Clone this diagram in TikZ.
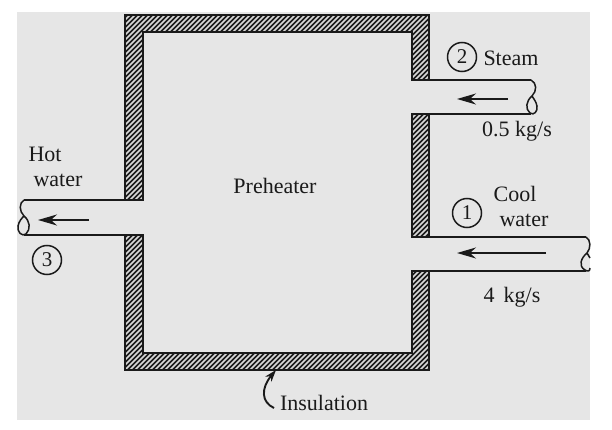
\documentclass[tikz,border=0pt]{standalone}
\usepackage{fontspec}
\setmainfont{Liberation Serif}
\usetikzlibrary{arrows.meta}
\definecolor{panel}{HTML}{E6E6E6}
\definecolor{ink}{HTML}{1A1A1A}
\tikzset{
  label text/.style={anchor=base,inner sep=0pt,text=ink,font=\fontsize{22}{24}\selectfont},
  state mark/.style={circle,draw=ink,line width=1.5pt,minimum size=29pt,inner sep=0pt,text=ink,font=\fontsize{21}{22}\selectfont},
  pipe line/.style={draw=ink,line width=1.7pt},
  flow arrow/.style={draw=ink,line width=2pt,-{Stealth[length=19pt,width=11pt]}},
  break line/.style={draw=ink,line width=1.5pt}
}
\begin{document}
\begin{tikzpicture}[x=1pt,y=-1pt]
\useasboundingbox (0,0) rectangle (612,430);
\fill[white] (0,0) rectangle (612,430);
\fill[panel] (17,12) rectangle (590,420);
% walls
\begin{scope}
  \clip (125,15) rectangle (429,32)
        (125,32) rectangle (143,200)
        (125,235) rectangle (143,353)
        (125,353) rectangle (429,370)
        (412,32) rectangle (429,80)
        (412,114) rectangle (429,237)
        (412,271) rectangle (429,353);
  \fill[ink] (120,10) rectangle (435,375);
  \foreach \k in {-260,-255,...,440} {
    \draw[white!85!black,line width=1.7pt] (\k,380) -- ++(370,-370);
  }
\end{scope}
\draw[ink,line width=1.4pt]
  (143,200) -- (125,200) -- (125,15) -- (429,15) -- (429,80) -- (412,80) -- (412,32) -- (143,32) -- cycle
  (143,235) -- (125,235) -- (125,370) -- (429,370) -- (429,271) -- (412,271) -- (412,353) -- (143,353) -- cycle
  (412,114) rectangle (429,237);
% pipes
\coordinate (st) at (412,80); \coordinate (sb) at (412,114);
\coordinate (st2) at (531,80); \coordinate (sb2) at (531,114);
\draw[pipe line] (st) -- (st2) (sb) -- (sb2);
\coordinate (ct) at (412,237); \coordinate (cb) at (412,271);
\coordinate (ct2) at (586,237); \coordinate (cb2) at (586,271);
\draw[pipe line] (ct) -- (ct2) (cb) -- (cb2);
\coordinate (ht) at (143,200); \coordinate (hb) at (143,235);
\coordinate (ht2) at (24,200); \coordinate (hb2) at (24,235);
\draw[pipe line] (ht) -- (ht2) (hb) -- (hb2);
% pipe breaks
\draw[break line] (st2) .. controls (537,83) and (537,91) .. (532,96)
  .. controls (526,101) and (525,109) .. (530,113)
  .. controls (534,116) and (538,111) .. (537,106)
  .. controls (536,101) and (533,98) .. (532,96);
\draw[break line] (ct2) .. controls (591,240) and (591,248) .. (587,253)
  .. controls (581,258) and (578,266) .. (585,270)
  .. controls (588,272) and (590,271) .. (590,268);
\draw[break line] (587,253) .. controls (588,255) and (589,256) .. (590,258);
\draw[break line] (ht2) .. controls (19,203) and (19,211) .. (24,216)
  .. controls (30,221) and (31,229) .. (26,234)
  .. controls (22,237) and (17,232) .. (18,226)
  .. controls (19,221) and (22,218) .. (24,216);
% flow arrows
\coordinate (a1) at (508,99); \coordinate (a2) at (457,99);
\draw[flow arrow] (a1) -- (a2);
\coordinate (b1) at (546,253); \coordinate (b2) at (457,253);
\draw[flow arrow] (b1) -- (b2);
\coordinate (c1) at (89,220); \coordinate (c2) at (38,220);
\draw[flow arrow] (c1) -- (c2);
% state marks
\node[state mark] (s2) at (462,57) {2};
\node[state mark] (s1) at (467,213) {1};
\node[state mark] (s3) at (47,260) {3};
% labels
\node[label text] (steam) at (511,66) {Steam};
\node[label text] (mdot2) at (517,137) {0.5 kg/s};
\node[label text] (cool) at (515,202) {Cool};
\node[label text] (cwater) at (524,226) {water};
\node[label text] (mdot1) at (512,302) {4\, kg/s};
\node[label text] (hot) at (45,162) {Hot};
\node[label text] (hwater) at (58,187) {water};
\node[label text] (pre) at (275,194) {Preheater};
\node[label text] (ins) at (324,410) {Insulation};
% insulation arrow
\coordinate (wallpt) at (276,370);
\draw[draw=ink,line width=1.9pt,-{Stealth[length=12pt,width=8pt]}] (274,408) .. controls (261,402) and (261,388) .. (wallpt);
\end{tikzpicture}
\end{document}
